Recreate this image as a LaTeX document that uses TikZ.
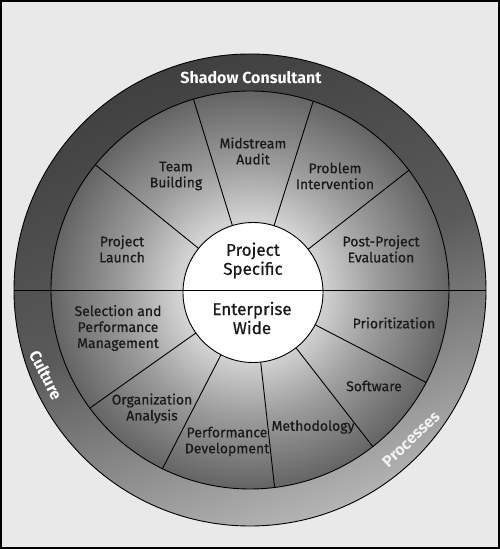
\documentclass[tikz,border=0pt]{standalone}
\usepackage{fontspec}
\setmainfont{Fira Sans}
\newfontfamily\labfont{Fira Sans}[FakeBold=0.6]
\newfontfamily\hubfont{Fira Sans}[FakeBold=0.7]
\usetikzlibrary{calc}
\definecolor{bg}{HTML}{E9E9E9}
\definecolor{txt}{HTML}{1A1A1A}
\definecolor{ringtop}{HTML}{404040}
\definecolor{ringmid}{HTML}{5A5A5A}
\definecolor{ringbot}{HTML}{B4B4B4}
\definecolor{segin}{HTML}{D2D2D2}
\definecolor{segmid}{HTML}{9C9C9C}
\definecolor{segout}{HTML}{646464}
\pgfdeclareradialshading{segshade}{\pgfpoint{0bp}{0bp}}{color(0bp)=(segin); color(9bp)=(segin); color(16bp)=(segmid); color(25bp)=(segout); color(50bp)=(segout)}
\pgfdeclareverticalshading{ringshade}{100bp}{color(0bp)=(ringbot); color(25bp)=(ringbot); color(50bp)=(ringmid); color(75bp)=(ringtop); color(100bp)=(ringtop)}
\tikzset{
  seglabel/.style={text=txt, align=center, font={\labfont\fontsize{14}{16}\selectfont}, inner sep=0pt},
  hublabel/.style={text=txt, align=center, font={\hubfont\fontsize{17}{19}\selectfont}, inner sep=0pt},
  ringlabel/.style={text=white, font={\fontsize{16}{18}\selectfont\bfseries}, inner sep=0pt},
  thinline/.style={draw=black, line width=0.9pt},
}
\begin{document}
\begin{tikzpicture}[x=1pt,y=1pt]
\useasboundingbox (0,0) rectangle (500,549);
\draw[fill=bg, draw=black, line width=2pt] (1,1) rectangle (499,548);
\coordinate (C) at (250,259);
\coordinate (IC) at (253,256.5);
% outer ring
\shade[shading=ringshade, shading angle=20] (C) circle (236);
\draw[thinline] (C) circle (236);
% segment disc
\shade[shading=segshade] (C) circle (199);
\draw[thinline] (C) circle (199);
% spoke end points on the ring
\foreach \a [count=\i] in {37,71.5,106.5,141,216.4,243.9,277.1,308.1,332.3}
  \coordinate (s\i) at ($(C)+(\a:199)$);
\coordinate (L) at ($(C)+(180:236)$);
\coordinate (R) at ($(C)+(0:236)$);
\node[circle, minimum size=140pt, inner sep=0pt] (hub) at (IC) {};
\foreach \i in {1,...,9}
  \draw[thinline] (s\i) -- (hub);
\node[circle, fill=white, draw=black, line width=0.9pt, minimum size=140pt, inner sep=0pt] (hubdisc) at (IC) {};
\draw[thinline] (L) -- (R);
% hub labels
\node[hublabel] (ps) at (253,288.5) {Project\\Specific};
\node[hublabel] (ew) at (252,231) {Enterprise\\Wide};
% upper segments
\node[seglabel] (ma) at (253,398) {Midstream\\Audit};
\node[seglabel] (tb) at (176,373) {Team\\Building};
\node[seglabel] (pi) at (335,373) {Problem\\Intervention};
\node[seglabel] (pl) at (122,300) {Project\\Launch};
\node[seglabel] (pe) at (381,300) {Post-Project\\Evaluation};
% lower segments
\node[seglabel] (sp) at (118,221) {Selection and\\Performance\\Management};
\node[seglabel] (oa) at (152,140.5) {Organization\\Analysis};
\node[seglabel] (pd) at (227,107.5) {Performance\\Development};
\node[seglabel] (me) at (313,122) {Methodology};
\node[seglabel] (so) at (374,163) {Software};
\node[seglabel] (pr) at (394,226) {Prioritization};
% ring labels
\node[ringlabel] (sc) at (251,471) {Shadow Consultant};
\node[ringlabel, rotate=-63] (cu) at (46,174) {Culture};
\node[ringlabel, rotate=44, text=white!95!black] (pro) at (411,110) {Processes};
\end{tikzpicture}
\end{document}
